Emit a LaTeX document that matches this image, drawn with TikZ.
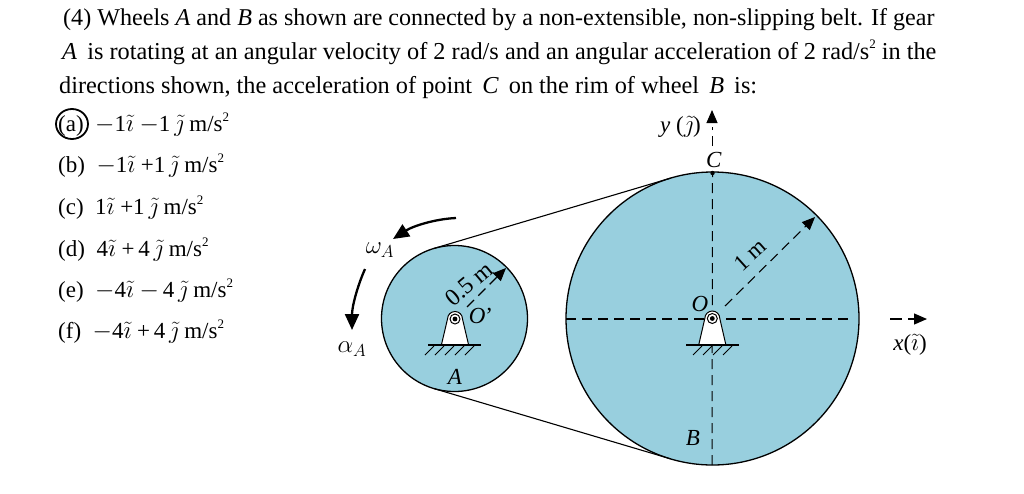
\documentclass[tikz,border=0pt]{standalone}
\usepackage{fontspec}
\setmainfont{Liberation Serif}
\usetikzlibrary{arrows.meta,calc}
\definecolor{wheel}{RGB}{152,207,222}
\newcommand{\ti}{$\tilde{\imath}$}
\newcommand{\tj}{$\tilde{\jmath}$}
\newcommand{\sqr}{\raisebox{.42em}{\fontsize{13}{14}\selectfont 2}}
\tikzset{
  x=1pt,y=-1pt,
  txt/.style={anchor=base west,inner sep=0pt,font=\fontsize{24.1}{26}\selectfont},
  txtb/.style={anchor=base west,inner sep=0pt,font=\fontsize{24.3}{26}\selectfont},
  opt/.style={anchor=base west,inner sep=0pt,font=\fontsize{23}{24}\selectfont},
  lab/.style={inner sep=0pt,font=\fontsize{23}{24}\selectfont},
  disc/.style={draw=black,line width=1.3pt,fill=wheel},
  belt/.style={line width=1.1pt},
  dsh/.style={line width=1.2pt,dash pattern=on 10pt off 6pt},
  tip/.style={-{Triangle[length=13pt,width=11pt]}},
  bigtip/.style={line width=2.3pt,-{Triangle[length=16pt,width=14pt]}},
  ground/.style={line width=2pt},
  hatch/.style={line width=0.9pt},
}
\newcommand{\support}[2]{% x, hub y
  \fill[white,draw=black,line width=1pt] (#1-13.5,344.5) -- (#1-7.5,#2) arc[start angle=180,end angle=360,radius=7.5] -- (#1+13.5,344.5) -- cycle;
  \draw[line width=1pt,fill=white] (#1,#2) circle[radius=5];
  \fill (#1,#2) circle[radius=2.4];
}
\begin{document}
\begin{tikzpicture}
\useasboundingbox (0,0) rectangle (1024,493);
\coordinate (CA) at (454.5,318.5);
\coordinate (CB) at (712.5,318.5);
% wheels and belt
\draw[disc] (CA) circle[radius=73];
\draw[disc] (CB) circle[radius=146.5];
\coordinate (T1) at (433.7,248.5);
\coordinate (T2) at (670.8,178.1);
\coordinate (B1) at (433.7,388.5);
\coordinate (B2) at (670.8,458.9);
\draw[belt] (T1) -- (T2);
\draw[belt] (B1) -- (B2);
% text
\node[txt] (l1) at (63,25) {(4) Wheels \textit{A} and \textit{B} as shown are connected by a non-extensible, non-slipping belt. If gear};
\node[txtb] (l2) at (62,59) {\textit{A}\, is rotating at an angular velocity of 2 rad/s and an angular acceleration of 2 rad/s\sqr{} in the};
\node[txtb] (l3) at (59,93) {directions shown, the acceleration of point \,\textit{C}\, on the rim of wheel \,\textit{B}\, is:};
\node[opt] (a) at (58,131) {(a)};
\node[opt] (ae) at (95,131) {$-$1\ti\ $-$1\,\tj\ m/s\sqr};
\node[opt] (b) at (58,172) {(b)\ \ $-$1\ti\ +1\,\tj\ m/s\sqr};
\node[opt] (c) at (58,214) {(c)\ \ 1\ti\ +1\,\tj\ m/s\sqr};
\node[opt] (d) at (58,256) {(d)\ \ 4\ti\ +\,4\,\tj\ m/s\sqr};
\node[opt] (e) at (58,297) {(e)\ \ $-$4\ti\ $-$\,4\,\tj\ m/s\sqr};
\node[opt] (f) at (58,338) {(f)\ \ $-$4\ti\ +\,4\,\tj\ m/s\sqr};
\draw[line width=1.8pt] (72,124) ellipse[x radius=16,y radius=15];
% axes of wheel B
\coordinate (ytop) at (712,110);
\coordinate (yneck) at (712,146);
\coordinate (ybot) at (712,465);
\coordinate (C) at (712.5,173);
\coordinate (xl) at (566,319);
\coordinate (xr) at (853,319);
\coordinate (x1) at (890,319);
\coordinate (x2) at (927,319);
\coordinate (r1) at (725,306);
\coordinate (r2) at (815,217);
\coordinate (r3) at (467,307);
\coordinate (r4) at (506,268);
\draw[dsh,line width=1pt] (ybot) -- (C);
\draw[dsh,line width=1pt] (yneck) -- (712,127);
\draw[line width=1pt,tip] (712,120) -- (ytop);
\draw[dsh] (xl) -- (xr);
\draw[line width=1.2pt,dash pattern=on 12pt off 6pt,tip] (x1) -- (x2);
\draw[line width=1.1pt,dash pattern=on 10pt off 6pt,tip] (r1) -- (r2);
\draw[line width=1.1pt,dash pattern=on 10pt off 6pt,tip] (r3) -- (r4);
\fill (C) circle[radius=2.2];
% supports
\support{455}{319}
\support{712.3}{318.5}
\draw[ground] (428,345) -- (481,345);
\foreach \x in {434,444,454,464,474}{\draw[hatch] (\x,346) -- (\x-9,355);}
\draw[ground] (686,345) -- (739,345);
\foreach \x in {702,712,722,732}{\draw[hatch] (\x,346) -- (\x-9,355);}
% rotation arrows
\coordinate (w1) at (456,218);
\coordinate (w2) at (393,239);
\coordinate (al1) at (365,269);
\coordinate (al2) at (352,330);
\draw[bigtip] (w1) .. controls (435,219) and (413,226) .. (w2);
\draw[bigtip] (al1) .. controls (357,287) and (352,307) .. (al2);
% labels
\node[lab] (wA) at (380,250) {$\omega_{A}$};
\node[lab] (aA) at (352,349) {$\alpha_{A}$};
\node[lab] (nA) at (455,377) {\textit{A}};
\node[lab] (nB) at (693,438) {\textit{B}};
\node[lab] (nC) at (714,160) {\textit{C}};
\node[lab] (nO) at (700,304) {\textit{O}};
\node[lab] (nOp) at (481,316) {\textit{O}'};
\node[lab,font=\fontsize{24}{26}\selectfont,rotate=40] (r05) at (469,284) {0.5 m};
\node[lab,rotate=42] (r1m) at (750,255) {1 m};
\node[lab,anchor=east] (ny) at (701,127) {\textit{y} (\tj)};
\node[lab] (nx) at (910,345) {\textit{x}(\ti)};
\end{tikzpicture}
\end{document}
